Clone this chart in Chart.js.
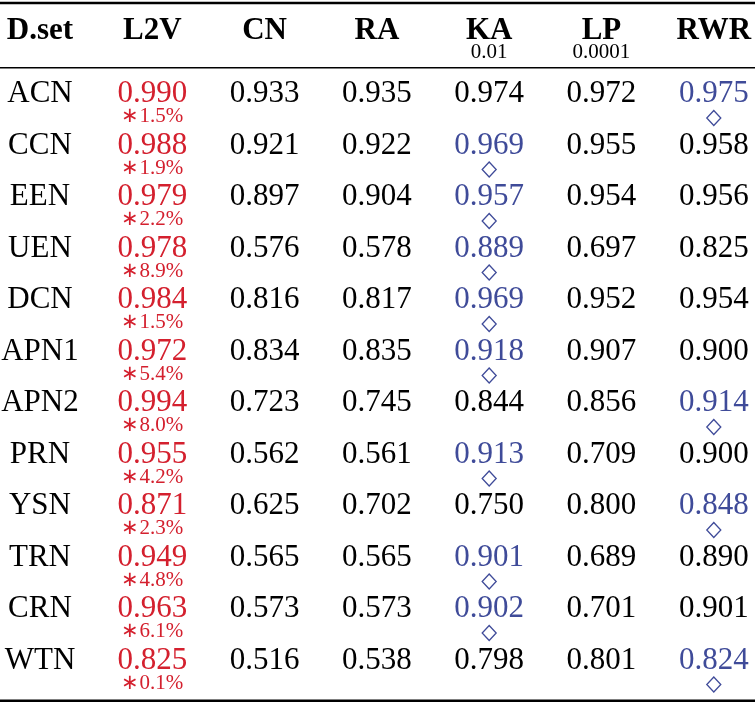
<!DOCTYPE html>
<html>
<head>
<meta charset="utf-8">
<script src="https://cdn.jsdelivr.net/npm/chart.js@4.4.1/dist/chart.umd.min.js"></script>
<style>
  html, body { margin: 0; padding: 0; background: #fff; }
  #wrap { width: 755px; height: 704px; position: relative; }
</style>
</head>
<body>
<div id="wrap"><canvas id="myChart"></canvas></div>
<script>
// table data
const networks = ["ACN", "CCN", "EEN", "UEN", "DCN", "APN1", "APN2", "PRN", "YSN", "TRN", "CRN", "WTN"];
const columns = ["D.set", "L2V", "CN", "RA", "KA", "LP", "RWR"];
const params = ["", "", "", "", "0.01", "0.0001", ""];
const l2v = [0.990, 0.988, 0.979, 0.978, 0.984, 0.972, 0.994, 0.955, 0.871, 0.949, 0.963, 0.825];
const cn  = [0.933, 0.921, 0.897, 0.576, 0.816, 0.834, 0.723, 0.562, 0.625, 0.565, 0.573, 0.516];
const ra  = [0.935, 0.922, 0.904, 0.578, 0.817, 0.835, 0.745, 0.561, 0.702, 0.565, 0.573, 0.538];
const ka  = [0.974, 0.969, 0.957, 0.889, 0.969, 0.918, 0.844, 0.913, 0.750, 0.901, 0.902, 0.798];
const lp  = [0.972, 0.955, 0.954, 0.697, 0.952, 0.907, 0.856, 0.709, 0.800, 0.689, 0.701, 0.801];
const rwr = [0.975, 0.958, 0.956, 0.825, 0.954, 0.900, 0.914, 0.900, 0.848, 0.890, 0.901, 0.824];

const baselines = [cn, ra, ka, lp, rwr];
// best baseline per row, and the gain of L2V over it
const best = networks.map((_, i) => Math.max(...baselines.map((b) => b[i])));
const gain = l2v.map((v, i) => (Math.round((v - best[i]) * 1000) / 10).toFixed(1));

const RED = "#d4202e";
const BLUE = "#3f4b99";
const SERIF = "'Liberation Serif', 'Times New Roman', serif";

const colValues = [null, l2v, cn, ra, ka, lp, rwr];

const datasets = columns.map((name, c) => ({
    label: name,
    data: networks.map((_, r) => ({ x: c, y: r })),
    pointRadius: 0,
    showLine: false,
}));

const tablePlugin = {
    id: "tableText",
    afterDatasetsDraw(chart) {
        const ctx = chart.ctx;
        const xs = chart.scales.x;
        const ys = chart.scales.y;
        ctx.save();
        ctx.textAlign = "center";
        ctx.textBaseline = "middle";

        // rules
        const left = chart.chartArea.left;
        const right = chart.chartArea.right;
        const rule = (v, w) => {
            const y = ys.getPixelForValue(v);
            ctx.strokeStyle = "#000";
            ctx.lineWidth = w;
            ctx.beginPath();
            ctx.moveTo(left, y);
            ctx.lineTo(right, y);
            ctx.stroke();
        };
        rule(-1.73, 2.5);
        rule(-0.47, 1.4);
        rule(11.82, 2.5);

        // header
        columns.forEach((name, c) => {
            const x = xs.getPixelForValue(c);
            ctx.fillStyle = "#000";
            ctx.font = "bold 31px " + SERIF;
            ctx.fillText(name, x, ys.getPixelForValue(-1.19));
            if (params[c]) {
                ctx.font = "21px " + SERIF;
                ctx.fillText(params[c], x, ys.getPixelForValue(-0.76));
            }
        });

        // cells
        chart.data.datasets.forEach((ds, c) => {
            const meta = chart.getDatasetMeta(c);
            meta.data.forEach((pt, r) => {
                const x = pt.x;
                const y = pt.y + 2;
                ctx.font = "31px " + SERIF;
                if (c === 0) {
                    ctx.fillStyle = "#000";
                    ctx.fillText(networks[r], x, y);
                    return;
                }
                const v = colValues[c][r];
                if (c === 1) {
                    ctx.fillStyle = RED;
                    ctx.fillText(v.toFixed(3), x, y);
                    ctx.font = "21px " + SERIF;
                    ctx.fillText("\u2217" + gain[r] + "%", x, y + 23);
                    return;
                }
                const isBest = v === best[r];
                ctx.fillStyle = isBest ? BLUE : "#000";
                ctx.fillText(v.toFixed(3), x, y);
                if (isBest) {
                    const dy = y + 24;
                    ctx.strokeStyle = BLUE;
                    ctx.lineWidth = 1.3;
                    ctx.beginPath();
                    ctx.moveTo(x, dy - 7.5);
                    ctx.lineTo(x + 7, dy);
                    ctx.lineTo(x, dy + 7.5);
                    ctx.lineTo(x - 7, dy);
                    ctx.closePath();
                    ctx.stroke();
                }
            });
        });
        ctx.restore();
    },
};

const myChart = new Chart(document.getElementById("myChart"), {
    type: "scatter",
    data: { datasets: datasets },
    options: {
        responsive: true,
        maintainAspectRatio: false,
        animation: false,
        layout: { padding: 0 },
        plugins: {
            legend: { display: false },
            tooltip: { enabled: false },
        },
        scales: {
            x: { type: "linear", display: false, min: -0.356, max: 6.367 },
            y: { type: "linear", display: false, reverse: true, min: -1.786, max: 11.884 },
        },
    },
    plugins: [tablePlugin],
});
</script>
</body>
</html>
